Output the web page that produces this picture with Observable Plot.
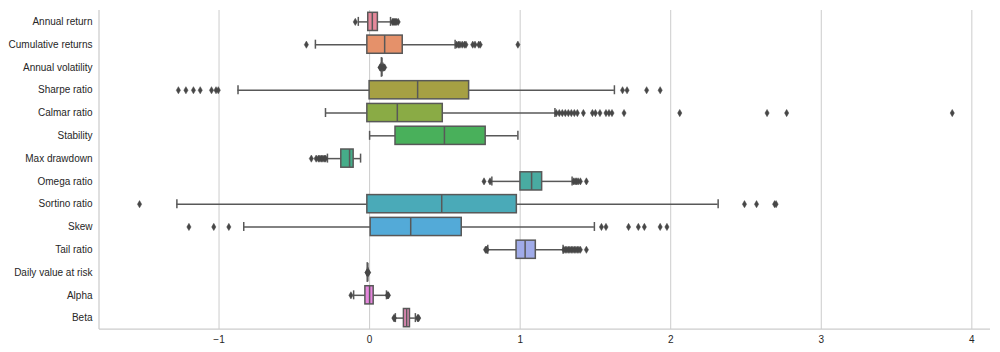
<!DOCTYPE html>
<html>
<head>
<meta charset="utf-8">
<script src="https://cdn.jsdelivr.net/npm/d3@7"></script>
<script src="https://cdn.jsdelivr.net/npm/@observablehq/plot@0.6"></script>
<style>
  html, body { margin: 0; padding: 0; background: #fff; }
  #chart svg { display: block; }
</style>
</head>
<body>
<div id="chart"></div>
<script>
const metrics = ["Annual return","Cumulative returns","Annual volatility","Sharpe ratio","Calmar ratio","Stability","Max drawdown","Omega ratio","Sortino ratio","Skew","Tail ratio","Daily value at risk","Alpha","Beta"];
const q1      = [-0.009, -0.015, 0.0815, 0.000, -0.015, 0.172, -0.188, 1.002, -0.015, 0.007, 0.976, -0.0125, -0.028, 0.228];
const medians = [0.018, 0.100, 0.082, 0.319, 0.184, 0.497, -0.133, 1.076, 0.479, 0.273, 1.033, -0.012, 0.000, 0.246];
const q3      = [0.055, 0.220, 0.0825, 0.661, 0.486, 0.771, -0.106, 1.146, 0.978, 0.612, 1.104, -0.0115, 0.027, 0.268];
const whiskLo = [-0.075, -0.360, 0.076, -0.874, -0.293, 0.000, -0.280, 0.812, -1.280, -0.836, 0.785, -0.014, -0.106, 0.171];
const whiskHi = [0.139, 0.568, 0.088, 1.626, 1.231, 0.985, -0.060, 1.345, 2.315, 1.493, 1.285, -0.010, 0.112, 0.304];
const outliers = [
  [-0.095, 0.152, 0.158, 0.165, 0.172, 0.180, 0.190],
  [-0.420, 0.578, 0.590, 0.600, 0.615, 0.630, 0.640, 0.685, 0.700, 0.725, 0.735, 0.985],
  [0.069, 0.072, 0.074, 0.090, 0.095, 0.100],
  [-1.270, -1.220, -1.170, -1.125, -1.050, -1.020, -1.005, 1.680, 1.710, 1.840, 1.930],
  [1.24, 1.26, 1.28, 1.30, 1.32, 1.34, 1.36, 1.38, 1.42, 1.48, 1.50, 1.53, 1.57, 1.59, 1.61, 1.69, 2.06, 2.64, 2.77, 3.87],
  [],
  [-0.387, -0.355, -0.340, -0.330, -0.320, -0.310, -0.300, -0.292],
  [0.760, 0.800, 1.355, 1.365, 1.375, 1.385, 1.400, 1.440],
  [-1.528, 2.490, 2.570, 2.690, 2.700],
  [-1.200, -1.035, -0.935, 1.540, 1.570, 1.720, 1.785, 1.825, 1.930, 1.975],
  [0.770, 0.775, 0.780, 1.29, 1.30, 1.31, 1.32, 1.33, 1.34, 1.35, 1.36, 1.37, 1.38, 1.39, 1.40, 1.44],
  [-0.017, -0.016, -0.008, -0.007],
  [-0.124, 0.118, 0.122, 0.125],
  [0.161, 0.165, 0.319, 0.322, 0.326]
];
const xTicks = [-1, 0, 1, 2, 3, 4];
const palette = ["#e6899b","#e5916a","#c9a047","#a6a043","#8aab45","#49b05b","#45ad89","#49aba1","#4aaab8","#53aad8","#a0abe9","#c795ea","#e686dd","#e48ab6"];

const boxes = metrics.map((m, i) => ({metric: m, q1: q1[i], med: medians[i], q3: q3[i], lo: whiskLo[i], hi: whiskHi[i]}));
const fliers = metrics.flatMap((m, i) => outliers[i].map(v => ({metric: m, value: v})));

const thinDiamond = {
  draw(context, size) {
    const s = Math.sqrt(size / Math.PI);
    context.moveTo(0, -s * 1.2);
    context.lineTo(s * 0.7, 0);
    context.lineTo(0, s * 1.2);
    context.lineTo(-s * 0.7, 0);
    context.closePath();
  }
};

const gray = "#585858";
const boxInset = 2.3;
const capInset = 6.9;

const plot = Plot.plot({
  width: 1000,
  height: 352,
  marginLeft: 99,
  marginRight: 10,
  marginTop: 10,
  marginBottom: 23,
  style: {fontFamily: "'Liberation Sans', Arial, sans-serif", fontSize: "10px", color: "#262626", background: "#fff"},
  x: {domain: [-1.794, 4.124], label: null},
  y: {domain: metrics, paddingInner: 0, paddingOuter: 0, round: false, label: null},
  color: {domain: metrics, range: palette},
  marks: [
    Plot.gridX(xTicks, {stroke: "#cccccc", strokeOpacity: 1, strokeWidth: 1}),
    Plot.axisX(xTicks, {tickSize: 0, tickPadding: 6, fontSize: 10, fill: "#262626", label: null, tickFormat: d3.format("d")}),
    Plot.axisY({tickSize: 0, tickPadding: 7, fontSize: 10, fill: "#262626", label: null}),
    Plot.ruleY(boxes, {y: "metric", x1: "lo", x2: "q1", stroke: gray, strokeWidth: 1.5}),
    Plot.ruleY(boxes, {y: "metric", x1: "q3", x2: "hi", stroke: gray, strokeWidth: 1.5}),
    Plot.tickX(boxes, {x: "lo", y: "metric", stroke: gray, strokeWidth: 1.5, insetTop: capInset, insetBottom: capInset}),
    Plot.tickX(boxes, {x: "hi", y: "metric", stroke: gray, strokeWidth: 1.5, insetTop: capInset, insetBottom: capInset}),
    Plot.barX(boxes, {y: "metric", x1: "q1", x2: "q3", fill: "metric", stroke: gray, strokeWidth: 1.5, insetTop: boxInset, insetBottom: boxInset}),
    Plot.tickX(boxes, {x: "med", y: "metric", stroke: gray, strokeWidth: 1.5, insetTop: boxInset, insetBottom: boxInset}),
    Plot.dot(fliers, {x: "value", y: "metric", symbol: thinDiamond, r: 3, fill: "#474747", stroke: "#474747", strokeWidth: 0.5})
  ]
});

const xs = plot.scale("x"), ys = plot.scale("y");
const [x0, x1] = xs.range;
const [y0, y1] = ys.range;
const svg = d3.select(plot);
svg.append("line").attr("x1", x0).attr("x2", x0).attr("y1", y0).attr("y2", y1)
  .attr("stroke", "#cccccc").attr("stroke-width", 1.25);
svg.append("line").attr("x1", x0).attr("x2", x1).attr("y1", y1).attr("y2", y1)
  .attr("stroke", "#cccccc").attr("stroke-width", 1.25);

document.getElementById("chart").appendChild(plot);
</script>
</body>
</html>
